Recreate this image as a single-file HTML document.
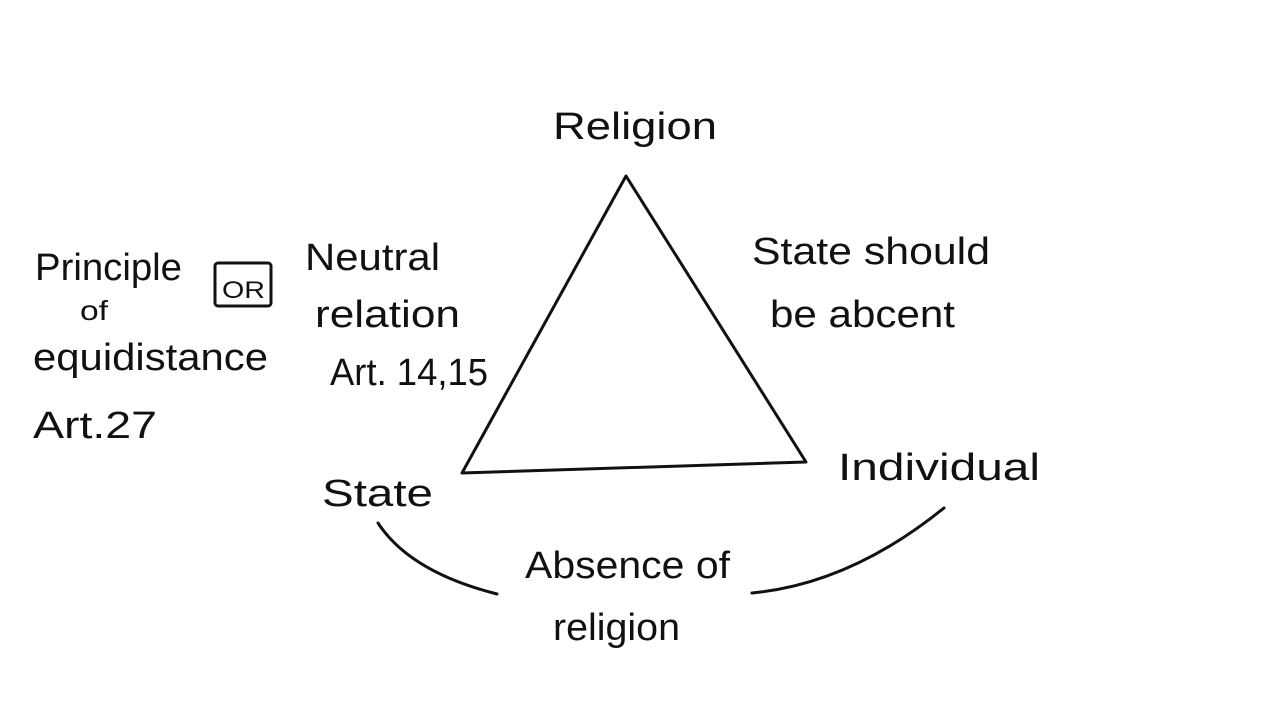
<!DOCTYPE html>
<html><head><meta charset="utf-8"><style>
html,body{margin:0;padding:0;background:#fff;width:1280px;height:720px;overflow:hidden}
text{font-family:"Liberation Sans",sans-serif;fill:#111}
</style></head><body>
<svg width="1280" height="720" viewBox="0 0 1280 720" xmlns="http://www.w3.org/2000/svg">
<g fill="none" stroke="#111" stroke-width="3" stroke-linejoin="round" stroke-linecap="round">
<polygon points="626,176 462,473 806,462"/>
<path d="M378,523 Q410,572 497,594"/>
<path d="M752,593 Q850,584 944,508"/>
<rect x="215" y="263" width="56" height="43" rx="3"/>
</g>
<g font-size="38">
<text x="553" y="139" textLength="164" lengthAdjust="spacingAndGlyphs">Religion</text>
<text x="752" y="264" textLength="238" lengthAdjust="spacingAndGlyphs">State should</text>
<text x="770" y="327" textLength="185" lengthAdjust="spacingAndGlyphs">be abcent</text>
<text x="305" y="270" textLength="135" lengthAdjust="spacingAndGlyphs">Neutral</text>
<text x="315" y="327" textLength="145" lengthAdjust="spacingAndGlyphs">relation</text>
<text x="330" y="385" textLength="158" lengthAdjust="spacingAndGlyphs">Art. 14,15</text>
<text x="35" y="280" textLength="147" lengthAdjust="spacingAndGlyphs">Principle</text>
<text x="80" y="320" font-size="28" textLength="28" lengthAdjust="spacingAndGlyphs">of</text>
<text x="33" y="370" textLength="235" lengthAdjust="spacingAndGlyphs">equidistance</text>
<text x="33" y="438" textLength="124" lengthAdjust="spacingAndGlyphs">Art.27</text>
<text x="838" y="480" textLength="202" lengthAdjust="spacingAndGlyphs">Individual</text>
<text x="322" y="506" textLength="111" lengthAdjust="spacingAndGlyphs">State</text>
<text x="525" y="578" textLength="205" lengthAdjust="spacingAndGlyphs">Absence of</text>
<text x="553" y="640" textLength="127" lengthAdjust="spacingAndGlyphs">religion</text>
<text x="222" y="298" font-size="24" textLength="43" lengthAdjust="spacingAndGlyphs">OR</text>
</g>
</svg>
</body></html>
